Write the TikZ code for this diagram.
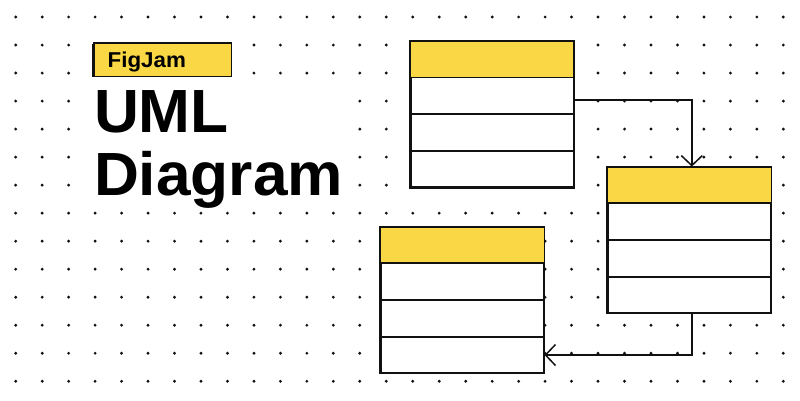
\documentclass[tikz,border=0pt]{standalone}
\usepackage{fontspec}
\setmainfont{Liberation Sans}
\newfontfamily\titlefont[FakeStretch=1.02]{Liberation Sans}
\newfontfamily\tagfont[FakeStretch=1.04]{Liberation Sans}
\usetikzlibrary{calc,arrows.meta}
\definecolor{figyellow}{HTML}{FAD744}
\definecolor{ink}{HTML}{111111}
\begin{document}
\begin{tikzpicture}[x=1pt,y=-1pt,
  umlbox/.style={draw=ink,line width=1.8pt,fill=white,minimum width=162.5pt,minimum height=145pt,inner sep=0pt},
  rowline/.style={draw=ink,line width=1.8pt},
  conn/.style={draw=ink,line width=1.5pt,-{Straight Barb[length=10pt,width=21pt]}},
  titletext/.style={anchor=base west,inner sep=0pt,text=black,font=\titlefont\bfseries\fontsize{61}{61}\selectfont},
  tagbox/.style={draw=ink,line width=1.3pt,fill=figyellow,minimum width=137.4pt,minimum height=33.4pt,inner sep=0pt,anchor=north west},
  tagtext/.style={anchor=base west,inner sep=0pt,text=black,font=\tagfont\bfseries\fontsize{21.5}{21.5}\selectfont}
]
\useasboundingbox[fill=white] (0,0) rectangle (800,400);
% dot grid
\foreach \i in {0,...,29}{\foreach \j in {0,...,13}{\fill[ink] ({15.7+26.47*\i},{17+28.02*\j}) circle (1.6pt);}}
% white area behind title
\fill[white] (86,80) rectangle (348,205);
% FigJam tag with shadow
\fill[ink] (91.8,43.8) rectangle (229.2,77.2);
\node[tagbox] (tag) at (93.3,42.3) {};
\node[tagtext] (tagtxt) at (107.5,67.3) {FigJam};
% title
\node[titletext] (uml) at (93.8,132) {UML};
\node[titletext] (diagram) at (93.8,195.5) {Diagram};
% UML class boxes
\node[umlbox] (box1) at (492.2,114.2) {};
\node[umlbox] (box2) at (689.3,240) {};
\node[umlbox] (box3) at (462.3,300) {};
\foreach \b in {box1,box2,box3}{
  \fill[figyellow] (\b.north west) rectangle ($(\b.north east)!0.25!(\b.south east)$);
  \foreach \f in {0.25,0.5,0.75}{
    \draw[rowline] ($(\b.north west)!\f!(\b.south west)$) -- ($(\b.north east)!\f!(\b.south east)$);
  }
  \draw[rowline] (\b.north west) rectangle (\b.south east);
}
% connectors
\draw[conn] ([yshift=14pt]box1.east) -| ([xshift=2.5pt]box2.north);
\draw[conn] ([xshift=2.5pt]box2.south) |- ([yshift=-55pt]box3.east);
\end{tikzpicture}
\end{document}
